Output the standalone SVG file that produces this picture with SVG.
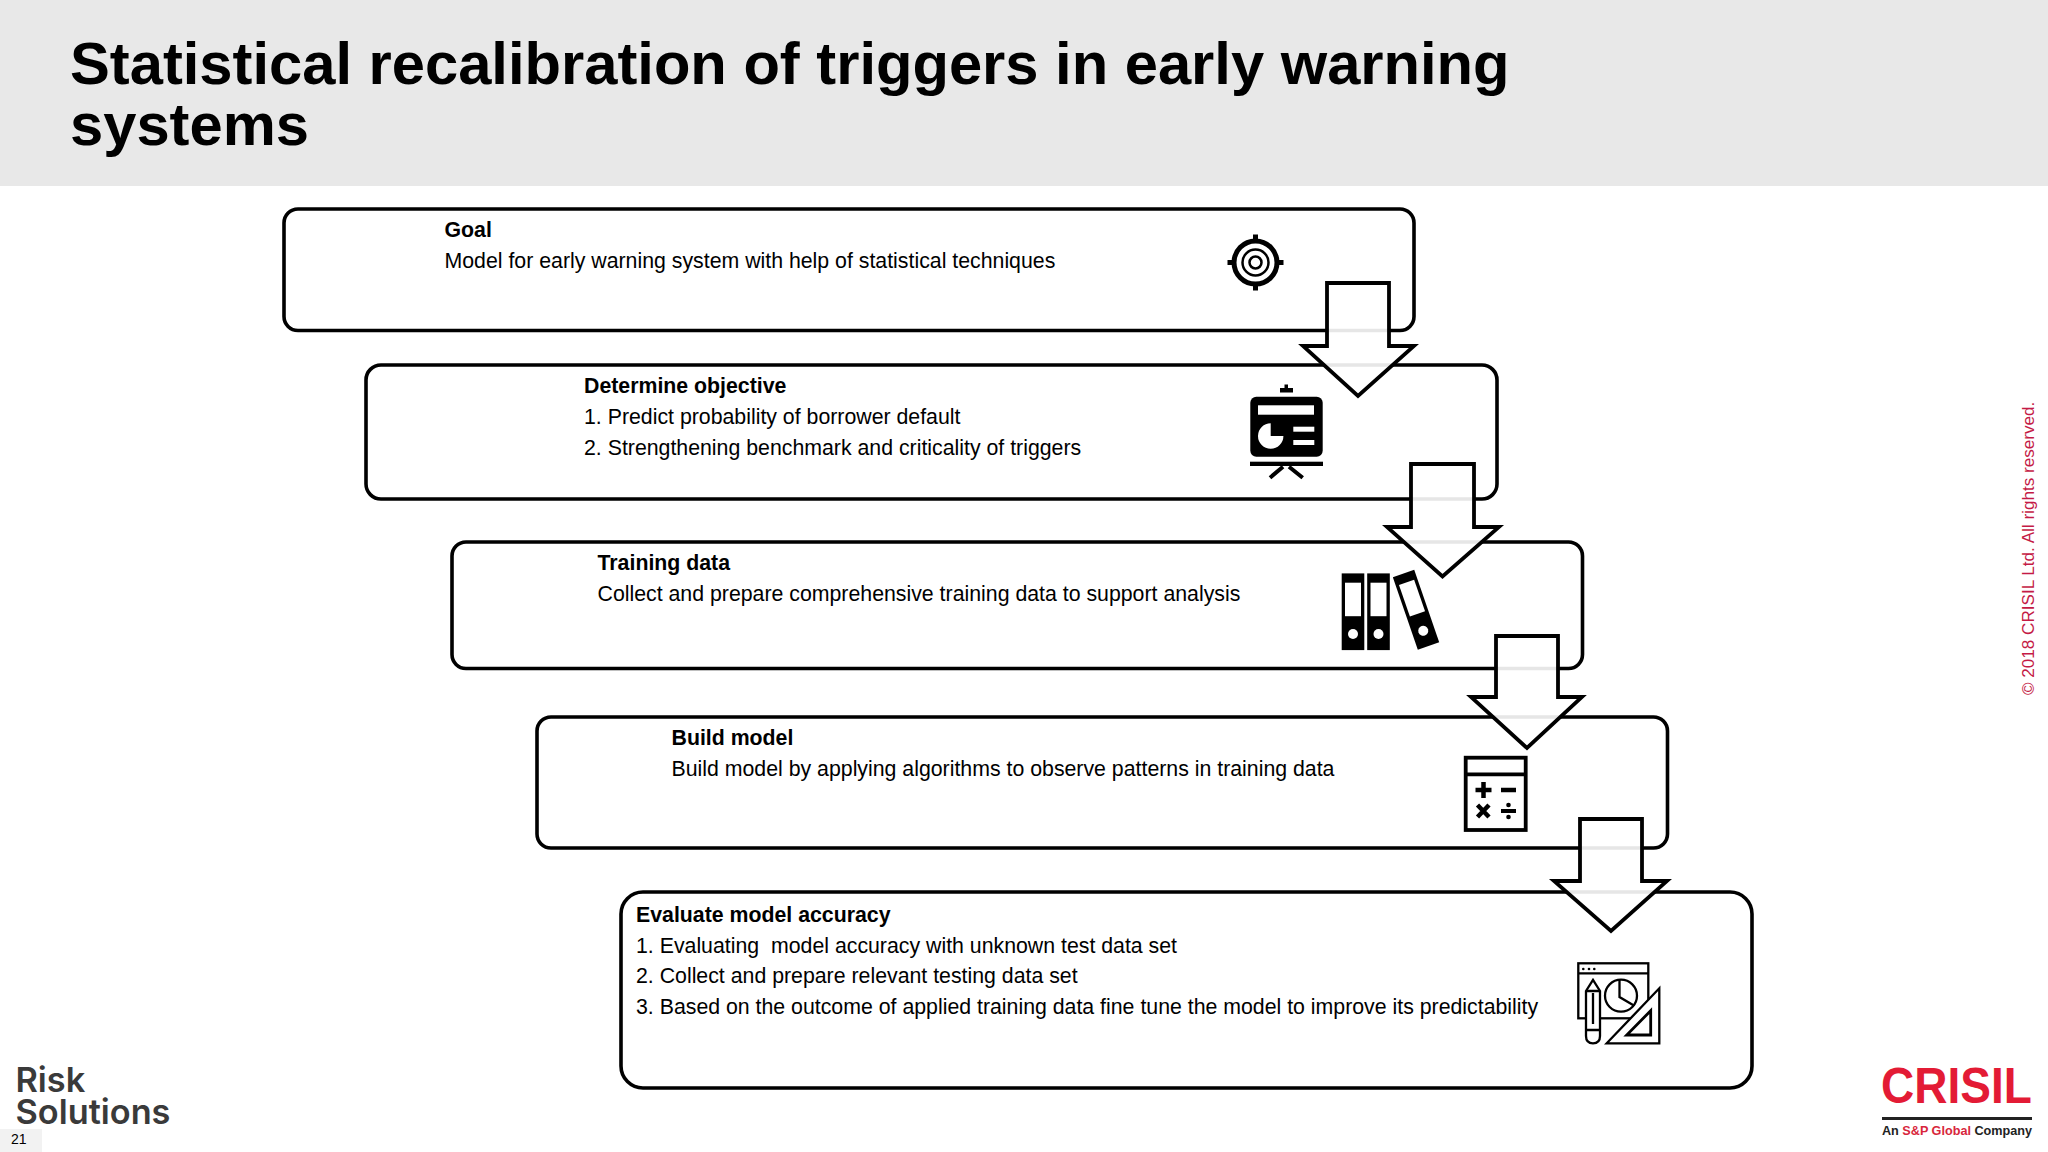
<svg xmlns="http://www.w3.org/2000/svg" width="2048" height="1152" viewBox="0 0 2048 1152">
<style>
text{font-family:"Liberation Sans",Arial,sans-serif;fill:#000;white-space:pre}
.t{font-size:21.3px}
.b{font-weight:700}
.box{fill:#fff;stroke:#000;stroke-width:3.600}
.arrow{fill:#fff;fill-opacity:.9;stroke:#000;stroke-width:3.800;stroke-linejoin:miter}
.k{fill:#000}
.w{fill:#fff}
.ln{fill:none;stroke:#000}
</style>
<defs>
<g id="binder"><rect class="k" x="-11.3" y="-38.3" width="22.6" height="76.7"/><rect class="w" x="-8" y="-29" width="16" height="33.5"/><circle class="w" cx="0" cy="22.300" r="5"/></g>
</defs>
<rect id="header" width="2048" height="186" fill="#e8e8e8"/>
<g id="title"><text class="b" font-size="59.700"><tspan x="70" y="84">Statistical recalibration of triggers in early warning</tspan><tspan x="70" y="145">systems</tspan></text></g>

<g id="node-goal"><rect class="box" x="284" y="209" width="1130" height="121.500" rx="14"/>
<text class="t b" x="444.500" y="237">Goal</text><text class="t" x="444.500" y="267.500">Model for early warning system with help of statistical techniques</text>
<g id="icon-target"><circle class="ln" cx="1255.500" cy="262.500" r="21.500" stroke-width="5"/><circle class="ln" cx="1255.500" cy="262.500" r="13" stroke-width="2.500"/><circle class="ln" cx="1255.500" cy="262.500" r="6" stroke-width="2.500"/><path class="ln" stroke-width="5" d="M1255.500 234.500v7M1255.500 283.500v7M1227.500 262.500h7M1276.500 262.500h7"/></g></g>

<g id="node-objective"><rect class="box" x="366" y="365" width="1131" height="134" rx="15"/>
<text class="t b" x="584" y="393">Determine objective</text><text class="t" x="584" y="423.500">1. Predict probability of borrower default</text><text class="t" x="584" y="454.500">2. Strengthening benchmark and criticality of triggers</text>
<g id="icon-presentation"><rect class="k" x="1280" y="388" width="13" height="4.500"/><rect class="k" x="1284.500" y="384.500" width="3.500" height="4"/><rect class="k" x="1250.300" y="396.700" width="72.400" height="60" rx="6"/><rect class="w" x="1258" y="405.300" width="56" height="9.400"/><path class="w" d="M1270.700 423.300A12.700 12.700 0 1 0 1283.400 436H1270.700Z"/><rect class="w" x="1293.300" y="426.700" width="21" height="5"/><rect class="w" x="1293.300" y="440" width="21" height="5"/><rect class="k" x="1250" y="461.700" width="73" height="4.300"/><path class="ln" stroke-width="4" d="M1270 477.700L1283 466.700M1289 466.700L1302.700 477.700"/></g></g>

<g id="node-training"><rect class="box" x="452" y="542" width="1130.500" height="126.500" rx="14"/>
<text class="t b" x="597.500" y="570">Training data</text><text class="t" x="597.500" y="600.500">Collect and prepare comprehensive training data to support analysis</text>
<g id="icon-binders"><use href="#binder" x="1353" y="611.700"/><use href="#binder" x="1378.500" y="611.700"/><use href="#binder" transform="translate(1416 609.700) rotate(-19)"/></g></g>

<g id="node-build"><rect class="box" x="537" y="717" width="1130.500" height="131" rx="14"/>
<text class="t b" x="671.500" y="745">Build model</text><text class="t" x="671.500" y="775.500">Build model by applying algorithms to observe patterns in training data</text>
<g id="icon-calculator"><rect class="ln" x="1465.700" y="757.700" width="60" height="72.300" stroke-width="3.800"/><path class="ln" stroke-width="4.500" d="M1475.500 790h16M1501 790h15M1477.500 805l11.500 12M1489 805l-11.500 12M1483.500 782v16"/><path class="ln" stroke-width="3.800" d="M1465.700 774.300h60M1501 811h15"/><circle class="k" cx="1508.500" cy="805" r="2.300"/><circle class="k" cx="1508.500" cy="817" r="2.300"/></g></g>

<g id="node-evaluate"><rect class="box" x="621" y="892" width="1131" height="196" rx="22"/>
<text class="t b" x="636" y="922">Evaluate model accuracy</text><text class="t" x="636" y="952.500" xml:space="preserve">1. Evaluating  model accuracy with unknown test data set</text><text class="t" x="636" y="983">2. Collect and prepare relevant testing data set</text><text class="t" x="636" y="1014">3. Based on the outcome of applied training data fine tune the model to improve its predictability</text>
<g id="icon-evaluate"><rect class="ln" x="1578.300" y="963.300" width="70" height="55" stroke-width="2.300"/><path class="ln" stroke-width="2.300" d="M1578.300 973.300h70"/><circle class="k" cx="1583.300" cy="969" r="1.300"/><circle class="k" cx="1589" cy="969" r="1.300"/><circle class="k" cx="1594.300" cy="969" r="1.300"/><circle class="ln" cx="1621" cy="995.700" r="16" stroke-width="2.300"/><path class="ln" stroke-width="2.300" d="M1619.500 980v17L1634.300 1005.700"/><path class="w" d="M1586 991L1593 980L1600 991V1036Q1600 1043.300 1593 1043.300Q1586 1043.300 1586 1036Z" stroke="#000" stroke-width="2.300"/><path class="ln" stroke-width="2.300" d="M1586 991h14M1593 993v31M1586 1030h14"/><path class="w" d="M1659.300 988.300V1043.300H1606.700Z" stroke="#000" stroke-width="2.300"/><path class="w" d="M1650.700 1010.700V1035H1626.700Z" stroke="#000" stroke-width="2.800"/></g></g>

<g id="connectors">
<path class="arrow" d="M1327 283H1389V346H1414L1358 396L1303 346H1327Z"/>
<path class="arrow" d="M1411 464H1474V527H1499L1442.500 576.500L1387 527H1411Z"/>
<path class="arrow" d="M1496 636H1558V697H1582L1527 748L1471 697H1496Z"/>
<path class="arrow" d="M1580 819H1642V881H1667L1611 931L1554 881H1580Z"/>
</g>

<g id="footer">
<text font-size="34.300" style="font-family:Inter,'Liberation Sans',sans-serif;fill:#3a3a3a;font-weight:600"><tspan x="15.500" y="1092">Risk</tspan><tspan x="15.500" y="1124">Solutions</tspan></text>
<rect x="0" y="1129" width="42" height="23" fill="#f2f2f2"/>
<text x="11" y="1144" font-size="14">21</text>
<text x="2034" y="695" font-size="17.100" transform="rotate(-90 2034 695)" style="fill:#c41a45">© 2018 CRISIL Ltd. All rights reserved.</text>
<text class="b" x="1881" y="1103" font-size="50" textLength="151" lengthAdjust="spacingAndGlyphs" style="fill:#e31b35">CRISIL</text>
<rect x="1882" y="1117" width="150" height="3" fill="#222"/>
<text class="b" x="1882" y="1135" font-size="13" textLength="150" lengthAdjust="spacingAndGlyphs" style="fill:#222">An <tspan style="fill:#d8263c">S&amp;P Global</tspan> Company</text>
</g>
</svg>
